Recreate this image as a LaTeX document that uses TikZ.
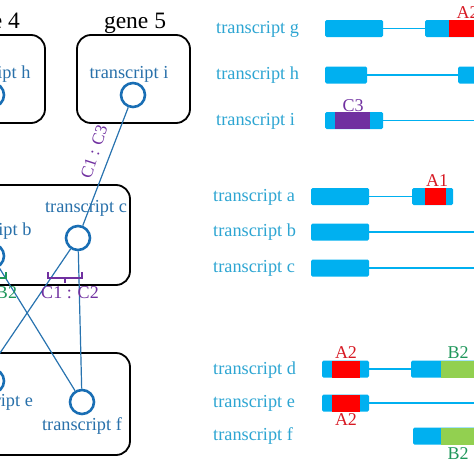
\documentclass[tikz,border=0pt]{standalone}
\usepackage{fontspec}
\setmainfont{Liberation Serif}
\definecolor{ltxt}{RGB}{40,112,170}
\definecolor{circc}{RGB}{25,110,180}
\definecolor{connc}{RGB}{40,115,175}
\definecolor{rtxt}{RGB}{45,165,210}
\definecolor{exonc}{RGB}{0,176,240}
\definecolor{redf}{RGB}{255,0,0}
\definecolor{redt}{RGB}{215,25,35}
\definecolor{purp}{RGB}{112,48,160}
\definecolor{grnf}{RGB}{146,208,80}
\definecolor{grnt}{RGB}{30,150,90}
\begin{document}
\begin{tikzpicture}[x=1pt,y=-1pt,
  genebox/.style={draw=black,line width=1.8pt,rounded corners=14pt},
  title/.style={font=\fontsize{23.5}{26}\selectfont,anchor=base,inner sep=0pt},
  ltx/.style={text=ltxt,font=\fontsize{18.3}{20}\selectfont,anchor=base,inner sep=0pt},
  rtx/.style={text=rtxt,font=\fontsize{18.3}{20}\selectfont,anchor=base west,inner sep=0pt},
  tc/.style={circle,draw=circc,line width=2.6pt,minimum size=24pt,inner sep=0pt},
  conn/.style={draw=connc,line width=1.2pt},
  dom/.style={font=\fontsize{18}{20}\selectfont,anchor=base,inner sep=0pt},
  exonf/.style={fill=exonc,rounded corners=1.5pt},
  intr/.style={draw=exonc,line width=1.6pt},
  brk/.style={line width=2pt}]
\useasboundingbox (0,0) rectangle (474,474);
\clip (0,0) rectangle (474,474);
% ---------- left: gene graph ----------
\node[title] (t4) at (-11,28) {gene 4};
\node[title] (t5) at (135,28) {gene 5};
\draw[genebox] (-68,35) rectangle (45,123);
\draw[genebox] (77,35) rectangle (190,123);
\draw[genebox] (-220,185) rectangle (130,285);
\draw[genebox] (-220,353) rectangle (130,455);

\node[ltx] (lh) at (-11,78) {transcript h};
\node[ltx] (li) at (129,78) {transcript i};
\node[ltx] (lc) at (86,212) {transcript c};
\node[ltx] (lb) at (-10,235) {transcript b};
\node[ltx] (le) at (-8,406) {transcript e};
\node[ltx] (lf) at (82,430) {transcript f};

\node[tc] (h) at (-8,95) {};
\node[tc] (i) at (133,95) {};
\node[tc] (c) at (78,238) {};
\node[tc] (b) at (-8,256) {};
\node[tc] (e) at (-8,381) {};
\node[tc] (f) at (82,402) {};
\coordinate (d) at (-59,440);

\draw[conn] (c) -- (i);
\node[font=\fontsize{17}{19}\selectfont,inner sep=0pt,anchor=center,text=purp,rotate=72] (c13) at (94,152) {C1 : C3};
\draw[conn] (c) -- (d);
\draw[conn] (b) -- (f);
\draw[conn] (c) -- (f);

% C1 : C2 bracket
\draw[brk,purp] (48,272) -- (48,278) -- (82,278) -- (82,272);
\draw[brk,purp] (65,278) -- (65,283);
\node[dom,text=purp] (c12) at (70,298) {C1 : C2};
% B2 bracket
\draw[brk,grnt] (-30,272) -- (-30,278) -- (6,278) -- (6,272);
\node[dom,text=grnt] (b2l) at (6.5,298) {B2};

% ---------- right: transcript structures ----------
\node[rtx] (rg) at (216,33) {transcript g};
\node[rtx] (rh) at (216,79.5) {transcript h};
\node[rtx] (ri) at (216,125) {transcript i};
\node[rtx] (ra) at (213,201) {transcript a};
\node[rtx] (rb) at (213,236.5) {transcript b};
\node[rtx] (rc) at (213,272.5) {transcript c};
\node[rtx] (rd) at (213,374) {transcript d};
\node[rtx] (re) at (213,407.5) {transcript e};
\node[rtx] (rf) at (213,440.5) {transcript f};

% g
\draw[intr] (383,28.5) -- (425,28.5);
\fill[exonf] (325,20) rectangle (383,37);
\fill[exonf] (425,20) rectangle (480,37);
\fill[redf] (449,20) rectangle (480,37);
\node[dom,text=redt] at (467.5,18.5) {A2};
% h
\draw[intr] (367,75) -- (458,75);
\fill[exonf] (325,66.5) rectangle (367,83.5);
\fill[exonf] (458,66.5) rectangle (480,83.5);
% i
\draw[intr] (383,120.5) -- (480,120.5);
\fill[exonf] (325,112) rectangle (383,129);
\fill[purp] (335,112) rectangle (370,129);
\node[dom,text=purp] at (353,111) {C3};
% a
\draw[intr] (369,196.5) -- (412,196.5);
\fill[exonf] (311,188) rectangle (369,205);
\fill[exonf] (412,188) rectangle (453,205);
\fill[redf] (425,188) rectangle (446,205);
\node[dom,text=redt] at (437,186) {A1};
% b
\draw[intr] (369,232) -- (480,232);
\fill[exonf] (311,223.5) rectangle (369,240.5);
% c
\draw[intr] (369,268) -- (480,268);
\fill[exonf] (311,259.5) rectangle (369,276.5);
% d
\draw[intr] (369,369) -- (411,369);
\fill[exonf] (322,360.5) rectangle (369,377.5);
\fill[redf] (332,360.5) rectangle (360,377.5);
\fill[exonf] (411,360.5) rectangle (480,377.5);
\fill[grnf] (441,360.5) rectangle (480,377.5);
\node[dom,text=redt] at (346,358) {A2};
\node[dom,text=grnt] at (458,358) {B2};
% e
\draw[intr] (369,403) -- (480,403);
\fill[exonf] (322,394.5) rectangle (369,411.5);
\fill[redf] (332,394.5) rectangle (360,411.5);
\node[dom,text=redt] at (346,425.5) {A2};
% f
\fill[exonf] (413,427.5) rectangle (480,444.5);
\fill[grnf] (441,427.5) rectangle (480,444.5);
\node[dom,text=grnt] at (458,459) {B2};
\end{tikzpicture}
\end{document}
